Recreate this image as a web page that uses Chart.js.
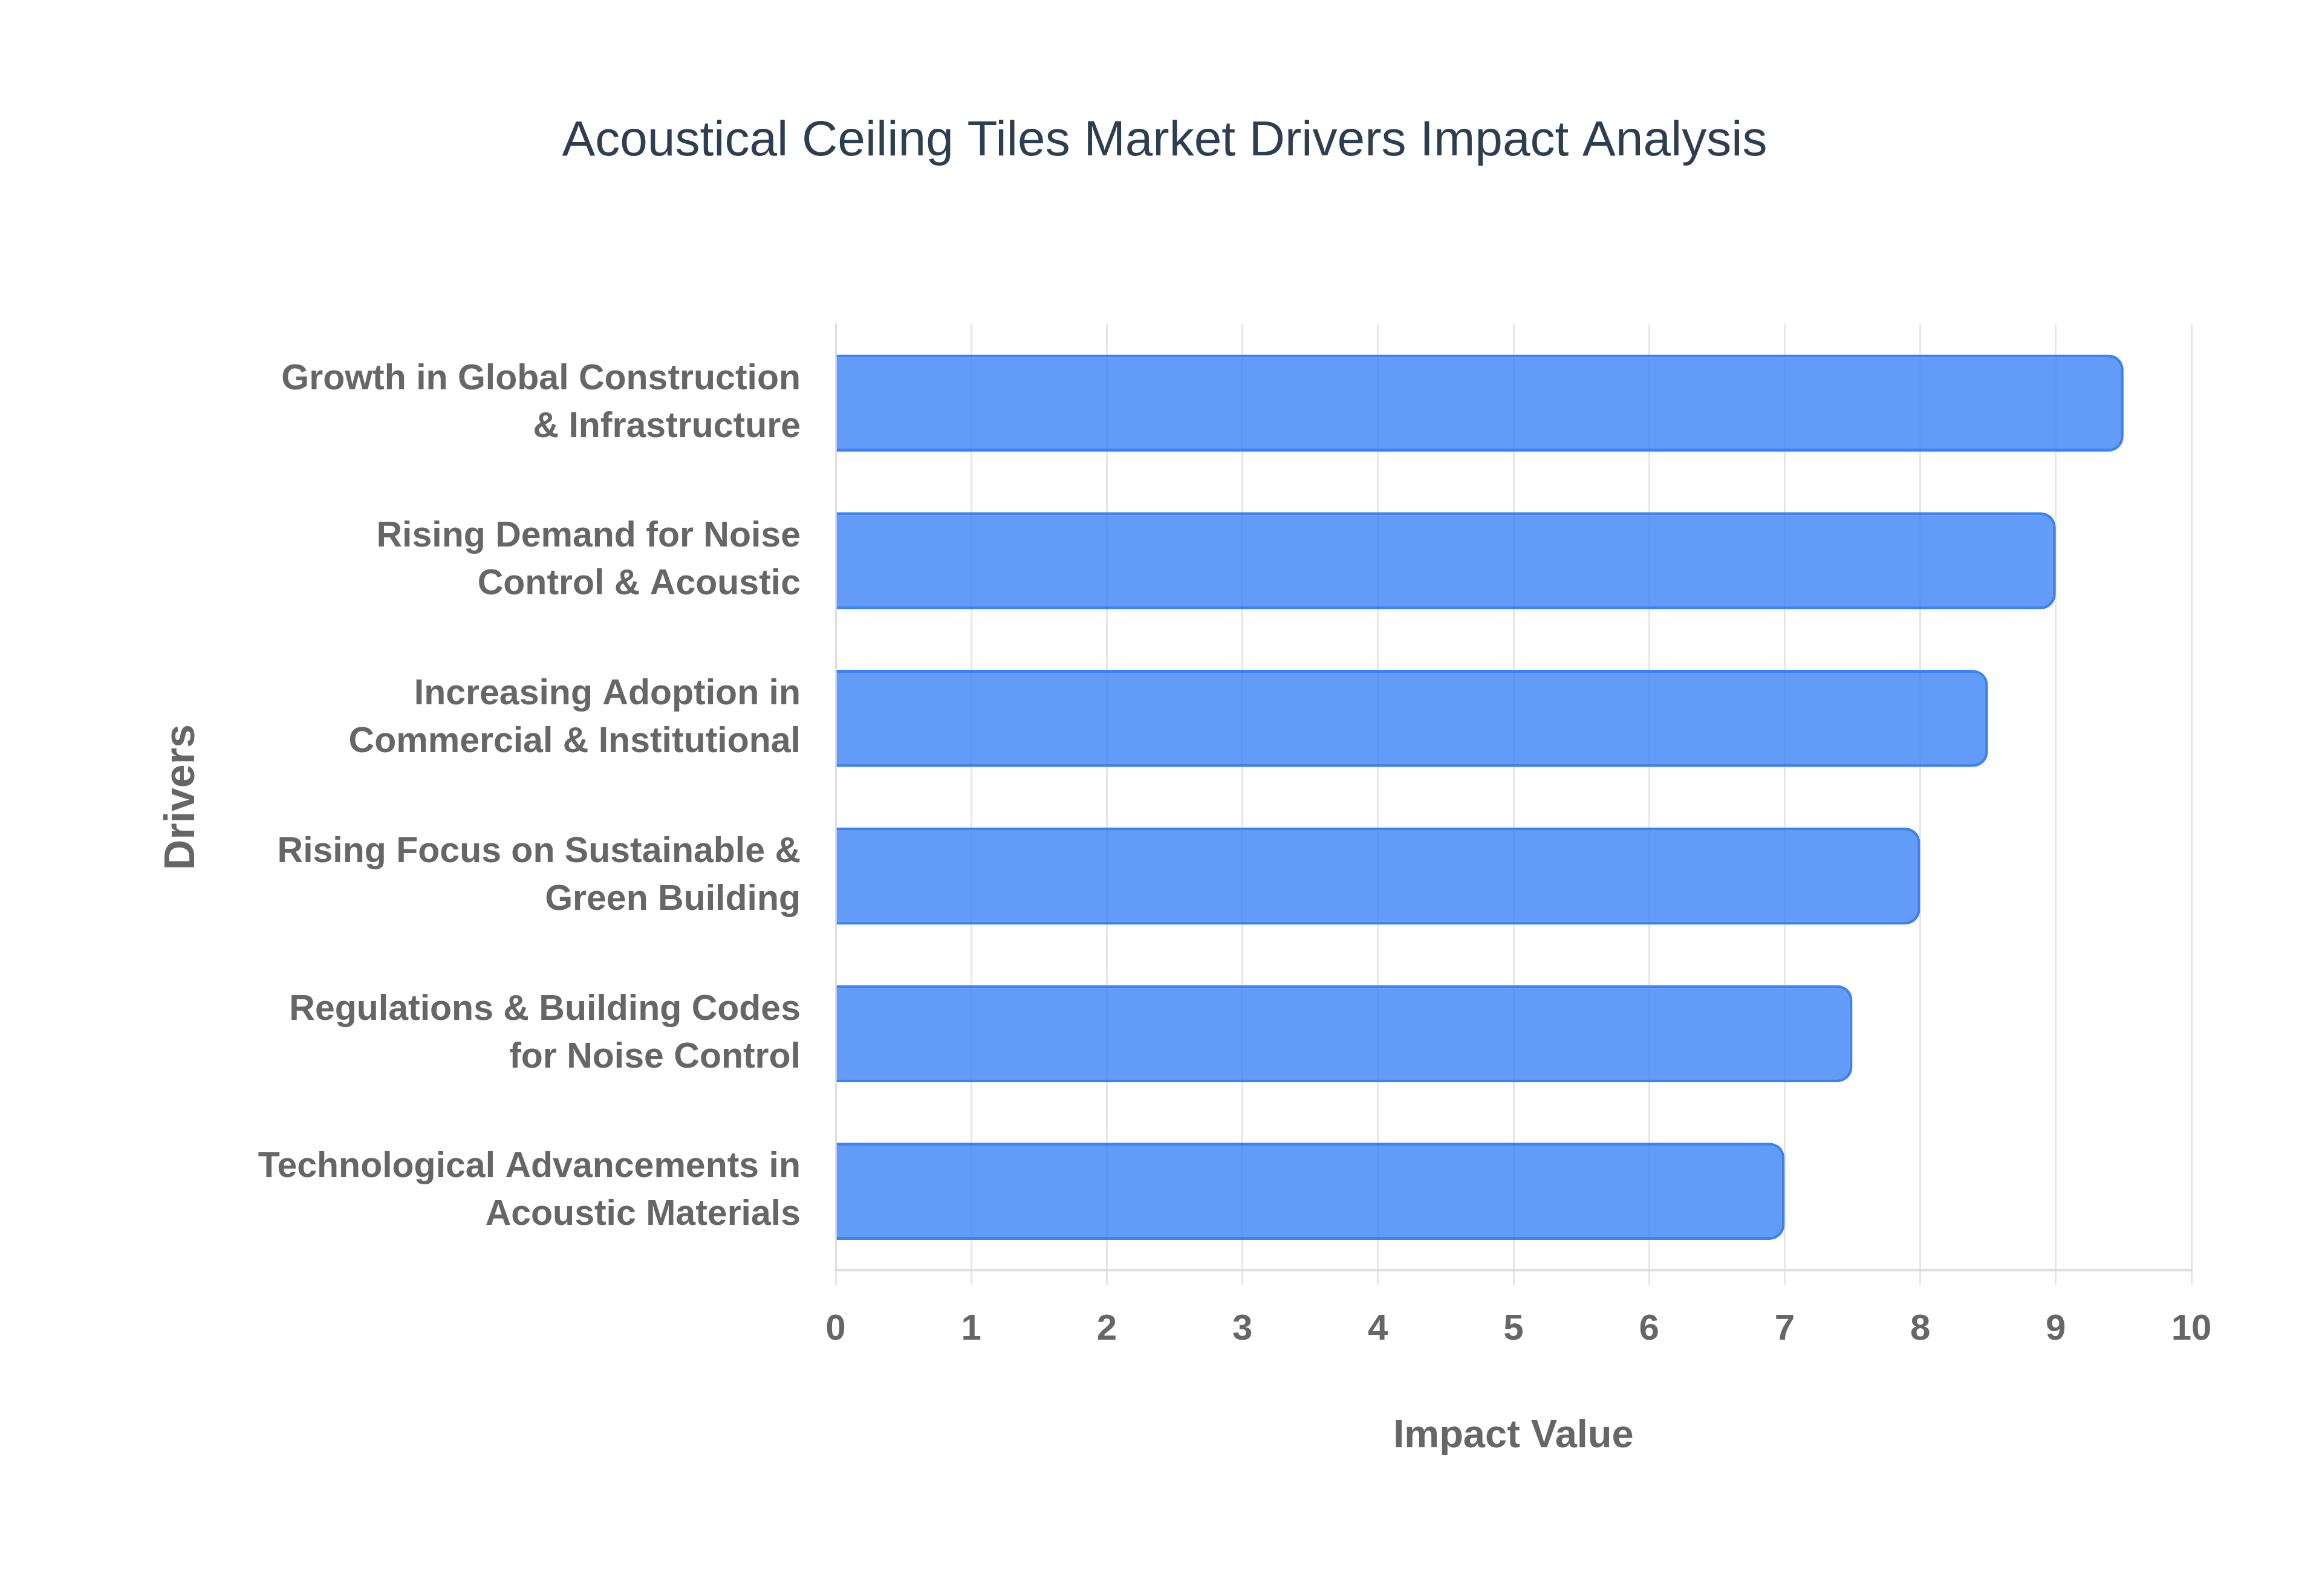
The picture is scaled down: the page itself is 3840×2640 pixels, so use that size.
<!DOCTYPE html>
<html>
<head>
<meta charset="utf-8">
<title>Acoustical Ceiling Tiles Market Drivers</title>
<script src="https://cdn.jsdelivr.net/npm/chart.js@4.4.0/dist/chart.umd.min.js"></script>
<style>
  html, body { margin: 0; padding: 0; background: #fff; }
  #wrap { width: 3840px; height: 2640px; }
</style>
</head>
<body>
<div id="wrap"><canvas id="chart-1"></canvas></div>
<script>
// data
const chartTitle = "Acoustical Ceiling Tiles Market Drivers Impact Analysis";
const drivers = [
  ["Growth in Global Construction", "& Infrastructure"],
  ["Rising Demand for Noise", "Control & Acoustic"],
  ["Increasing Adoption in", "Commercial & Institutional"],
  ["Rising Focus on Sustainable &", "Green Building"],
  ["Regulations & Building Codes", "for Noise Control"],
  ["Technological Advancements in", "Acoustic Materials"]
];
const impactValues = [9.5, 9, 8.5, 8, 7.5, 7];
const impactTicks = [0, 1, 2, 3, 4, 5, 6, 7, 8, 9, 10];

Chart.defaults.font.family = "'Liberation Sans', Arial, Helvetica, sans-serif";

// horizontal bar chart
if (document.getElementById("chart-1")) {
  new Chart(document.getElementById("chart-1"), {
    type: 'bar',
    data: {
      labels: drivers,
      datasets: [{
        label: "Impact Value",
        data: impactValues,
        backgroundColor: 'rgba(59, 130, 246, 0.8)',
        borderColor: 'rgb(59, 130, 246)',
        borderWidth: 5,
        borderRadius: 25,
        barPercentage: 0.77,
        categoryPercentage: 0.8
      }]
    },
    options: {
      indexAxis: 'y',
      responsive: true,
      maintainAspectRatio: false,
      animation: false,
      devicePixelRatio: 1,
      layout: { padding: { top: 100, left: 228, right: 216, bottom: 225 } },
      plugins: {
        legend: { display: false },
        tooltip: { enabled: false },
        title: {
          display: true,
          text: chartTitle,
          color: '#2c3e50',
          font: { size: 82, weight: 'normal', lineHeight: 1.2 },
          padding: { top: 85, bottom: 253 }
        }
      },
      scales: {
        x: {
          min: impactTicks[0],
          max: impactTicks[impactTicks.length - 1],
          afterBuildTicks: s => { s.ticks = impactTicks.map(v => ({ value: v })); },
          grid: { color: '#e6e6e6', lineWidth: 3, tickLength: 25 },
          border: { color: '#dedede', width: 4 },
          ticks: { color: '#666', font: { size: 60, weight: 'bold', lineHeight: 1.2 }, padding: 37 },
          title: {
            display: true,
            text: 'Impact Value',
            color: '#666',
            font: { size: 65, weight: 'bold', lineHeight: 1.2 },
            padding: { top: 65, bottom: 0 }
          }
        },
        y: {
          grid: { display: false, drawTicks: false },
          border: { color: '#dedede', width: 3 },
          ticks: { color: '#666', font: { size: 59, weight: 'bold', lineHeight: 1.34 }, padding: 58 },
          title: {
            display: true,
            text: 'Drivers',
            color: '#666',
            font: { size: 70, weight: 'bold', lineHeight: 1.2 },
            padding: { top: 32, bottom: 0 }
          },
          afterFit: s => { s.width = 1382 - 228; }
        }
      }
    }
  });
}
</script>
</body>
</html>
